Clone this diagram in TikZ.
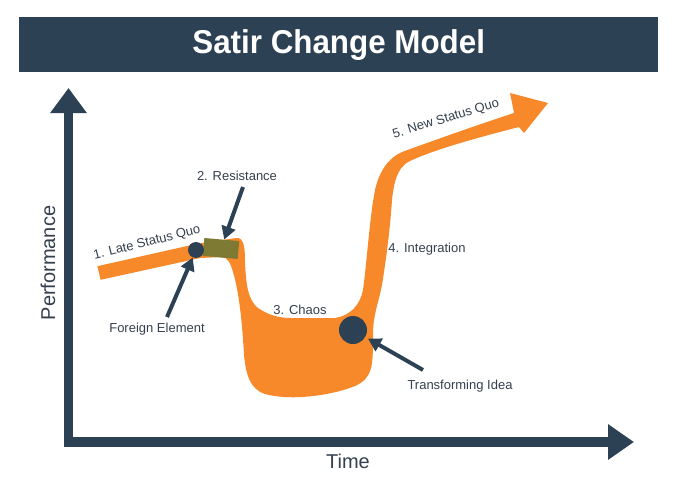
\documentclass[tikz,border=0pt]{standalone}
\usepackage{fontspec}
\usepackage{graphicx}
\setmainfont{Liberation Sans}
\usetikzlibrary{arrows.meta}
\definecolor{slate}{HTML}{2D4154}
\definecolor{labelc}{HTML}{34404D}
\definecolor{orng}{HTML}{F7892A}
\definecolor{olivec}{HTML}{7E7A33}
\begin{document}
\begin{tikzpicture}[x=1pt,y=-1pt,
  lbl/.style={text=labelc,font=\fontsize{13}{15}\selectfont,inner sep=0pt},
  axlbl/.style={text=labelc,font=\fontsize{20}{24}\selectfont,inner sep=0pt},
  pointer/.style={draw=slate,line width=4pt,-{Triangle[length=13pt,width=14pt]}},
  dot/.style={circle,fill=slate,inner sep=0pt}]
\useasboundingbox (0,0) rectangle (688,487);
% title bar
\node[fill=slate,minimum width=639pt,minimum height=55pt,inner sep=0pt,anchor=north west] (bar) at (19,17) {};
\node[text=white,font=\fontsize{33}{38}\selectfont\bfseries,inner sep=0pt] (title) at (bar.center) {\scalebox{0.95}[1]{Satir Change Model}};
% axes
\coordinate (Ytip) at (68.5,88);
\coordinate (O) at (68.5,442);
\coordinate (Xtip) at (634,442);
\draw[slate,line width=9.5pt,line join=miter,{Triangle[length=25pt,width=35pt]}-{Triangle[length=26pt,width=34pt]}] (Ytip) -- (O) -- (Xtip);
\node[axlbl,rotate=90] (perf) at (48,263) {Performance};
\node[axlbl] (time) at (348,461) {Time};
% orange change curve
\fill[orng] (97.4,266.2) -- (196,244) -- (236,238)
  .. controls (244,237) and (245,248) .. (245,262)
  .. controls (246,285) and (248,300) .. (258,308)
  .. controls (270,316) and (280,318) .. (292,318)
  -- (335,318)
  .. controls (350,316) and (360,305) .. (363,290)
  .. controls (367,260) and (370,215) .. (375,190)
  .. controls (379,172) and (388,158) .. (402,152)
  .. controls (435,140) and (480,124) .. (514,113)
  -- (510,93) -- (548,103) -- (524,133) -- (519,127)
  .. controls (480,137) and (432,150) .. (408,162)
  .. controls (397,169) and (394,182) .. (392,200)
  .. controls (390,230) and (386,260) .. (382,285)
  .. controls (378,305) and (373,315) .. (373,335)
  .. controls (373,365) and (373,378) .. (355,386)
  .. controls (330,396) and (290,401) .. (265,394)
  .. controls (250,389) and (246,375) .. (244,355)
  .. controls (242,320) and (239,292) .. (233,272)
  .. controls (230,262) and (228,258) .. (222,257)
  -- (200,258) -- (100.6,279.8) -- cycle;
% resistance block
\node[fill=olivec,rotate=-5,minimum width=35pt,minimum height=18pt,inner sep=0pt] (res) at (221,248.5) {};
% dots
\node[dot,minimum size=16pt] (fe) at (196,250) {};
\node[dot,minimum size=28pt] (ti) at (353,330) {};
% labels
\node[lbl,rotate=14] (l1) at (147,243) {1. Late Status Quo};
\node[lbl] (l2) at (237,176) {2. Resistance};
\node[lbl] (l3) at (300,310) {3. Chaos};
\node[lbl] (l4) at (427,249) {4. Integration};
\node[lbl,rotate=17] (l5) at (446,119) {5. New Status Quo};
\node[lbl] (lfe) at (157,329) {Foreign Element};
\node[lbl] (lti) at (460,386) {Transforming Idea};
% pointers
\coordinate (resS) at (243,187);
\coordinate (feS) at (167,317);
\coordinate (tiS) at (423,370);
\draw[pointer] (resS) -- (res);
\draw[pointer] (feS) -- (fe);
\draw[pointer,shorten >=3pt] (tiS) -- (ti);
\end{tikzpicture}
\end{document}
